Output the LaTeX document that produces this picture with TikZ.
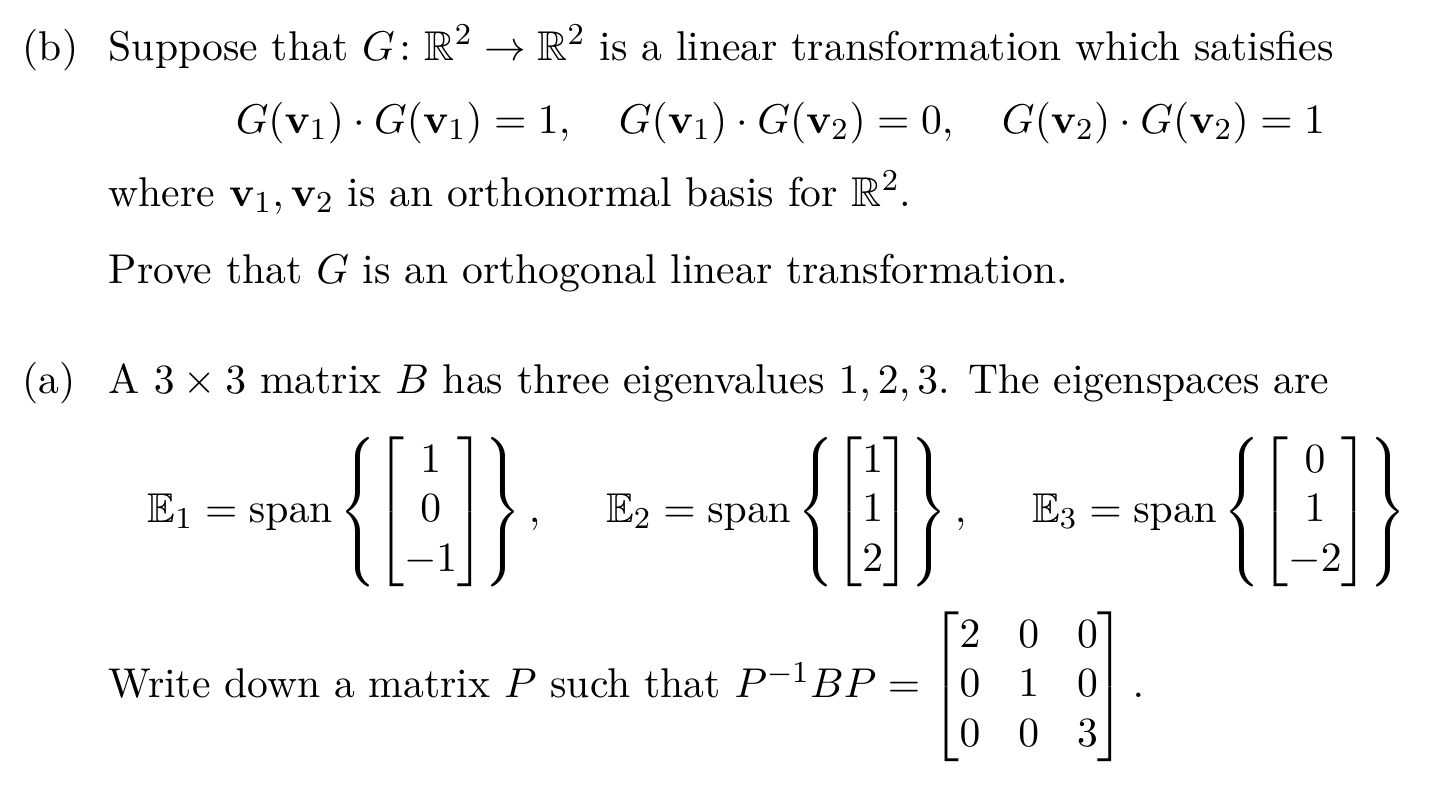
\documentclass[tikz,border=0pt]{standalone}
\usepackage{amsmath,amssymb}
\begin{document}
\begin{tikzpicture}[x=0.2632pt,y=-0.2632pt,
  every node/.style={font=\fontsize{10.95}{13}\selectfont},
  txt/.style={anchor=base west,inner sep=0pt}]
\useasboundingbox (0,0) rectangle (1444,788);
\node[txt] (b) at (22,60) {(b)};
\node[txt] (l1) at (108,60) {Suppose that $G\colon \mathbb{R}^2\to\mathbb{R}^2$ is a linear transformation which satisfies};
\node[txt] (l2) at (235,133) {$G(\mathbf{v}_1)\cdot G(\mathbf{v}_1)=1,\quad G(\mathbf{v}_1)\cdot G(\mathbf{v}_2)=0,\quad G(\mathbf{v}_2)\cdot G(\mathbf{v}_2)=1$};
\node[txt] (l3) at (108,206) {where $\mathbf{v}_1,\mathbf{v}_2$ is an orthonormal basis for $\mathbb{R}^2$.};
\node[txt] (l4) at (108,283) {Prove that $G$ is an orthogonal linear transformation.};
\node[txt] (a) at (22,393) {(a)};
\node[txt] (l5) at (108,393) {A $3\times3$ matrix $B$ has three eigenvalues $1,2,3$. The eigenspaces are};
\node[anchor=west,inner sep=0pt] (l6) at (147,512) {$\mathbb{E}_1=\operatorname{span}\left\{\begin{bmatrix}1\\0\\-1\end{bmatrix}\right\},\quad\hspace{4.5pt}
\mathbb{E}_2=\operatorname{span}\left\{\begin{bmatrix}1\\1\\2\end{bmatrix}\right\},\quad\hspace{4.5pt}
\mathbb{E}_3=\operatorname{span}\left\{\begin{bmatrix}0\\1\\-2\end{bmatrix}\right\}$};
\node[anchor=west,inner sep=0pt] (l7) at (108,687) {Write down a matrix $P$ such that $P^{-1}BP=\begin{bmatrix}2&0&0\\0&1&0\\0&0&3\end{bmatrix}.$};
\end{tikzpicture}
\end{document}
